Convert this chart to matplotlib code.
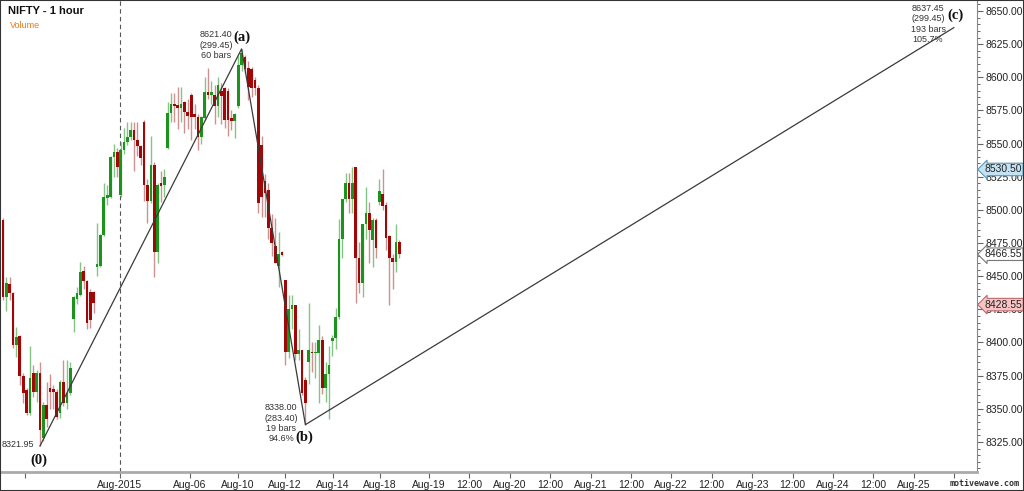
import matplotlib
matplotlib.use("Agg")
import matplotlib.pyplot as plt
import matplotlib.transforms as mtransforms
from matplotlib.patches import Rectangle
from matplotlib.ticker import MultipleLocator, FormatStrFormatter
import numpy as np

# NIFTY hourly bars, 27 Jul - 18 Aug 2015
opens = [8492, 8434, 8444, 8437, 8398, 8405, 8375, 8364, 8347, 8377,
         8363, 8377, 8328, 8353, 8366, 8365, 8363, 8347, 8370, 8354,
         8362, 8418, 8433, 8436, 8454, 8446, 8438, 8438, 8457, 8458,
         8481, 8509, 8510, 8540, 8544, 8511, 8545, 8551, 8555, 8560,
         8553, 8548, 8566, 8519, 8507, 8534, 8468, 8520, 8519, 8547,
         8573, 8580, 8579, 8577, 8581, 8574, 8587, 8572, 8570, 8555,
         8569, 8589, 8587, 8587, 8578, 8590, 8592, 8590, 8569, 8567,
         8578, 8609, 8615, 8607, 8606, 8598, 8592, 8549, 8522, 8515,
         8486, 8473, 8458, 8468, 8447, 8393, 8425, 8428, 8391, 8394,
         8372, 8385, 8393, 8392, 8392, 8402, 8366, 8376, 8401, 8403,
         8419, 8478, 8508, 8520, 8508, 8532, 8464, 8445, 8489, 8498,
         8477, 8492, 8506, 8512, 8504, 8480, 8464, 8461, 8476]
highs = [8494, 8449, 8449, 8438, 8412, 8406, 8377, 8366, 8397, 8383,
         8379, 8385, 8355, 8370, 8376, 8368, 8365, 8372, 8387, 8387,
         8385, 8435, 8442, 8461, 8458, 8447, 8440, 8439, 8490, 8482,
         8520, 8519, 8541, 8550, 8547, 8551, 8562, 8566, 8566, 8566,
         8566, 8549, 8568, 8523, 8556, 8536, 8520, 8529, 8531, 8581,
         8588, 8588, 8593, 8593, 8582, 8584, 8588, 8580, 8572, 8571,
         8600, 8607, 8597, 8594, 8600, 8596, 8593, 8592, 8575, 8573,
         8616, 8621.40, 8617, 8612, 8608, 8600, 8594, 8556, 8527, 8520,
         8497, 8494, 8483, 8469, 8447, 8436, 8436, 8428, 8410, 8394,
         8374, 8430, 8400, 8400, 8413, 8405, 8385, 8397, 8406, 8426,
         8493, 8508, 8528, 8528, 8532, 8532, 8476, 8489, 8517, 8506,
         8494, 8494, 8523, 8530.50, 8506, 8481, 8467, 8489, 8477]
lows = [8432, 8424, 8432, 8396, 8389, 8368, 8354, 8345, 8345, 8359,
        8355, 8321.95, 8326, 8336, 8350, 8350, 8342, 8343, 8352, 8350,
        8360, 8408, 8429, 8435, 8440, 8410, 8411, 8422, 8450, 8457,
        8480, 8504, 8509, 8525, 8525, 8510, 8542, 8549, 8553, 8529,
        8541, 8534, 8507, 8490, 8505, 8449, 8460, 8506, 8510, 8546,
        8566, 8566, 8561, 8566, 8558, 8561, 8553, 8561, 8545, 8550,
        8568, 8584, 8580, 8565, 8570, 8565, 8562, 8556, 8560, 8554,
        8577, 8605, 8603, 8583, 8585, 8587, 8498, 8495, 8495, 8478,
        8465, 8460, 8442, 8465, 8383, 8388, 8410, 8387, 8387, 8360,
        8338.00, 8369, 8378, 8373, 8354, 8361, 8355, 8342, 8390, 8395,
        8418, 8464, 8506, 8498, 8498, 8430, 8437, 8434, 8478, 8460,
        8457, 8464, 8504, 8500, 8470, 8428.55, 8440, 8453, 8464]
closes = [8434, 8445, 8437, 8398, 8404, 8375, 8362, 8347, 8373, 8363,
          8377, 8334, 8353, 8342, 8363, 8363, 8344, 8370, 8354, 8362,
          8381, 8434, 8437, 8453, 8446, 8415, 8417, 8430, 8459, 8481,
          8510, 8511, 8540, 8544, 8532, 8545, 8551, 8555, 8560, 8553,
          8548, 8539, 8519, 8507, 8534, 8468, 8519, 8518, 8525, 8573,
          8580, 8578, 8577, 8580, 8574, 8571, 8570, 8570, 8555, 8570,
          8589, 8587, 8589, 8578, 8594, 8586, 8568, 8568, 8567, 8572,
          8609, 8618, 8606, 8593, 8592, 8592, 8505, 8510, 8513, 8486,
          8475, 8460, 8467, 8466, 8393, 8425, 8428, 8391, 8394, 8362,
          8354, 8394, 8392, 8393, 8402, 8366, 8376, 8383, 8403, 8419,
          8478, 8508, 8520, 8508, 8520, 8464, 8445, 8489, 8498, 8485,
          8492, 8471, 8514, 8503, 8479, 8464, 8461, 8476, 8466.55]

# elliott wave pivots (bar number, price)
wave_bars = [11, 71, 90, 283]
wave_prices = [8321.95, 8621.40, 8338.00, 8637.45]
wave_names = ["(0)", "(a)", "(b)", "(c)"]
wave_info = ["8321.95",
             "8621.40\n(299.45)\n60 bars",
             "8338.00\n(283.40)\n19 bars\n94.6%",
             "8637.45\n(299.45)\n193 bars\n105.7%"]

# price tags on the right scale
tag_values = [8530.50, 8466.55, 8428.55]

# x axis: bar positions of the date labels
tick_pos = [6.5, 34.8, 55.6, 69.9, 83.9, 98.2, 112.2, 126.8, 138.8, 150.8, 162.9,
            174.9, 186.9, 198.9, 210.9, 223.0, 235.0, 247.0, 259.0, 271.0, 283.0]
tick_labels = ["", "Aug-2015", "Aug-06", "Aug-10", "Aug-12", "Aug-14", "Aug-18",
               "Aug-19", "12:00", "Aug-20", "12:00", "Aug-21", "12:00", "Aug-22",
               "12:00", "Aug-23", "12:00", "Aug-24", "12:00", "Aug-25", ""]

plt.rcParams['font.family'] = ['Liberation Sans', 'DejaVu Sans']

fig = plt.figure(figsize=(10.24, 4.91), dpi=100)
ax = fig.add_axes([0.0, 19 / 491, 977 / 1024, 472 / 491])

o = np.array(opens); h = np.array(highs); l = np.array(lows); c = np.array(closes)
x = np.arange(len(o))
up = c >= o
body_col = np.where(up, "#1c931c", "#a00808")
wick_col = np.where(up, "#84c484", "#cf9090")

ax.vlines(x, l, h, colors=wick_col, lw=1, zorder=2)
ax.bar(x, np.maximum(np.abs(c - o), 1.0), bottom=np.minimum(o, c), width=0.8,
       color=body_col, lw=0, zorder=3)

# wave lines
ax.plot(wave_bars, wave_prices, color="#3a3a3a", lw=0.9, zorder=4)

serif = dict(family=["Liberation Serif", "DejaVu Serif"], weight="bold", fontsize=10.5, color="#111")
small = dict(fontsize=6.5, color="#333", linespacing=1.2)

# (0)
ax.annotate(wave_info[0], (wave_bars[0], wave_prices[0]), xytext=(-4.5, 1), textcoords="offset points",
            ha="right", va="center", **small)
ax.annotate(wave_names[0], (wave_bars[0], wave_prices[0]), xytext=(-0.5, -10), textcoords="offset points",
            ha="center", va="center", **serif)
# (a)
ax.annotate(wave_info[1], (wave_bars[1], wave_prices[1]), xytext=(-18.5, 13.5), textcoords="offset points",
            ha="center", va="top", multialignment="center", **small)
ax.annotate(wave_names[1], (wave_bars[1], wave_prices[1]), xytext=(0, 8.5), textcoords="offset points",
            ha="center", va="center", **serif)
# (b)
ax.annotate(wave_info[2], (wave_bars[2], wave_prices[2]), xytext=(-17.5, 15.5), textcoords="offset points",
            ha="center", va="top", multialignment="center", **small)
ax.annotate(wave_names[2], (wave_bars[2], wave_prices[2]), xytext=(-0.5, -9), textcoords="offset points",
            ha="center", va="center", **serif)
# (c)
ax.annotate(wave_info[3], (wave_bars[3], wave_prices[3]), xytext=(-18.5, 17), textcoords="offset points",
            ha="center", va="top", multialignment="center", **small)
ax.annotate(wave_names[3], (wave_bars[3], wave_prices[3]), xytext=(1, 9), textcoords="offset points",
            ha="center", va="center", **serif)

ax.axvline(tick_pos[1], color="#555", lw=0.8, ls=(0, (4, 3)), zorder=1)

ax.set_xlim(-0.9, 289.9)
ax.set_ylim(8302.3, 8658.3)

ax.set_xticks(tick_pos, tick_labels)
ax.tick_params(axis="x", length=4, width=0.8, color="#666", labelsize=7.5, pad=2, labelcolor="#222")

ax.yaxis.tick_right()
ax.yaxis.set_major_locator(MultipleLocator(25))
ax.yaxis.set_minor_locator(MultipleLocator(5))
ax.yaxis.set_major_formatter(FormatStrFormatter("%.2f"))
ax.tick_params(axis="y", which="major", length=4, width=0.8, color="#666", labelsize=7.5, pad=2, labelcolor="#222")
ax.tick_params(axis="y", which="minor", length=2, width=0.7, color="#666")

ax.spines["top"].set_visible(False)
ax.spines["left"].set_visible(False)
ax.spines["right"].set_color("#888")
ax.spines["bottom"].set_color("#aaa")
ax.spines["bottom"].set_linewidth(2)

# price tags
trans = mtransforms.blended_transform_factory(ax.transAxes, ax.transData)
tag_style = [("#c4e2f2", "#5d98b8"), ("#ffffff", "#777777"), ("#f6c4c4", "#c06868")]
for v, (fc, ec) in zip(tag_values, tag_style):
    ax.text(1.0075, v, f"{v:.2f}", transform=trans, ha="left", va="center", fontsize=7.5,
            color="#222", clip_on=False, zorder=10,
            bbox=dict(boxstyle="larrow,pad=0.12", fc=fc, ec=ec, lw=0.8))

fig.text(8 / 1024, 1 - 11 / 491, "NIFTY - 1 hour", fontsize=8, weight="bold", va="center", color="#111")
fig.text(10 / 1024, 1 - 25 / 491, "Volume", fontsize=6.5, va="center", color="#e8791c")
fig.text(1020 / 1024, 1 - 484 / 491, "motivewave.com", fontsize=6, weight="bold", ha="right",
         va="center", family="DejaVu Sans Mono", color="#333")

fig.add_artist(Rectangle((0, 0), 1, 1, transform=fig.transFigure, fill=False, ec="#333", lw=1.5))

fig.savefig("out.png", dpi=100)
